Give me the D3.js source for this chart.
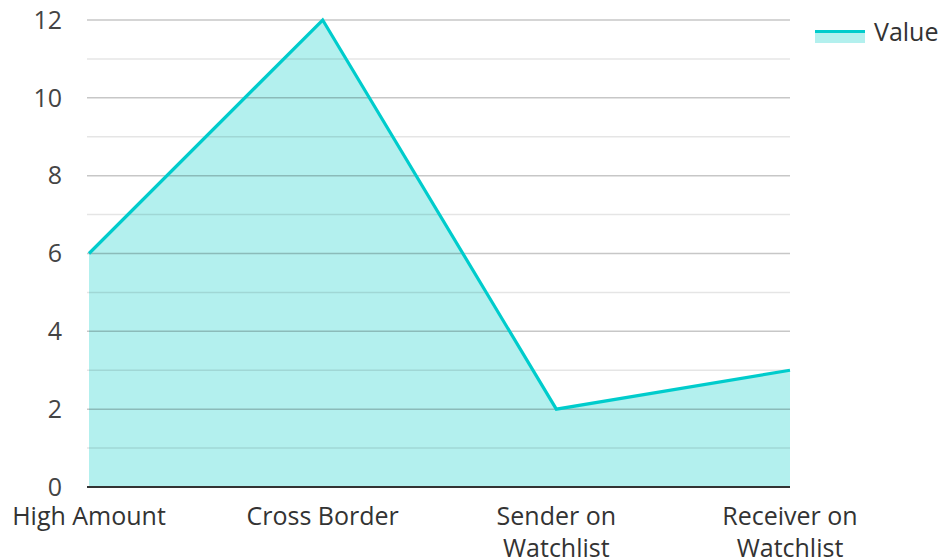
<!DOCTYPE html>
<html><head><meta charset="utf-8">
<script src="https://cdn.jsdelivr.net/npm/d3@7/dist/d3.min.js"></script>
<style>body{margin:0;background:#fff;}text{font-family:"Open Sans","Noto Sans",sans-serif;}</style>
</head><body>
<svg id="c" width="939" height="558"></svg>
<script>
const categories = ["High Amount", "Cross Border", "Sender on Watchlist", "Receiver on Watchlist"];
const categoryLines = [["High Amount"], ["Cross Border"], ["Sender on", "Watchlist"], ["Receiver on", "Watchlist"]];
const values = [6, 12, 2, 3];
const majorTicks = [0, 2, 4, 6, 8, 10, 12];
const minorTicks = [1, 3, 5, 7, 9, 11];
const seriesName = "Value";

(function () {
const svg = d3.select("#c");
const mLeft = 89, mRight = 790, mTop = 20, mBottom = 487;
const x = d3.scalePoint().domain(categories).range([mLeft, mRight]);
const y = d3.scaleLinear().domain([0, 12]).range([mBottom, mTop]);

const area = d3.area().x((d, i) => x(categories[i])).y0(y(0)).y1(d => y(d));
svg.append("path").datum(values).attr("d", area).attr("fill", "#b3f0ee");

svg.append("g").selectAll("line").data(minorTicks).join("line")
  .attr("x1", mLeft - 2).attr("x2", mRight).attr("y1", d => y(d)).attr("y2", d => y(d))
  .attr("stroke", "#000").attr("stroke-opacity", 0.1).attr("stroke-width", 1.5);
svg.append("g").selectAll("line").data(majorTicks.filter(d => d > 0)).join("line")
  .attr("x1", mLeft - 2).attr("x2", mRight).attr("y1", d => y(d)).attr("y2", d => y(d))
  .attr("stroke", "#000").attr("stroke-opacity", 0.22).attr("stroke-width", 1.5);

const line = d3.line().x((d, i) => x(categories[i])).y(d => y(d));
svg.append("path").datum(values).attr("d", line).attr("fill", "none")
  .attr("stroke", "#00cccc").attr("stroke-width", 3.2).attr("stroke-linejoin", "miter");

svg.append("line").attr("x1", mLeft - 2).attr("x2", mRight).attr("y1", y(0)).attr("y2", y(0))
  .attr("stroke", "#333").attr("stroke-width", 2);

svg.append("g").selectAll("text").data(majorTicks).join("text")
  .attr("x", 62).attr("y", d => y(d)).attr("dy", "0.35em").attr("text-anchor", "end")
  .attr("font-size", 25).attr("fill", "#444").text(d => d);

const xl = svg.append("g").selectAll("text").data(categories).join("text")
  .attr("x", d => x(d)).attr("y", 525).attr("text-anchor", "middle")
  .attr("font-size", 25).attr("fill", "#333");
xl.each(function(d, i) {
  const t = d3.select(this);
  categoryLines[i].forEach((s, j) => {
    t.append("tspan").attr("x", x(d)).attr("dy", j === 0 ? 0 : 32).text(s);
  });
});

const lg = svg.append("g");
lg.append("rect").attr("x", 815).attr("y", 30).attr("width", 50).attr("height", 13).attr("fill", "#b3f0ee");
lg.append("line").attr("x1", 815).attr("x2", 865).attr("y1", 31.5).attr("y2", 31.5).attr("stroke", "#00cccc").attr("stroke-width", 3);
lg.append("text").attr("x", 874).attr("y", 32).attr("dy", "0.35em").attr("font-size", 25).attr("fill", "#333").text(seriesName);
})();
</script>
</body></html>
